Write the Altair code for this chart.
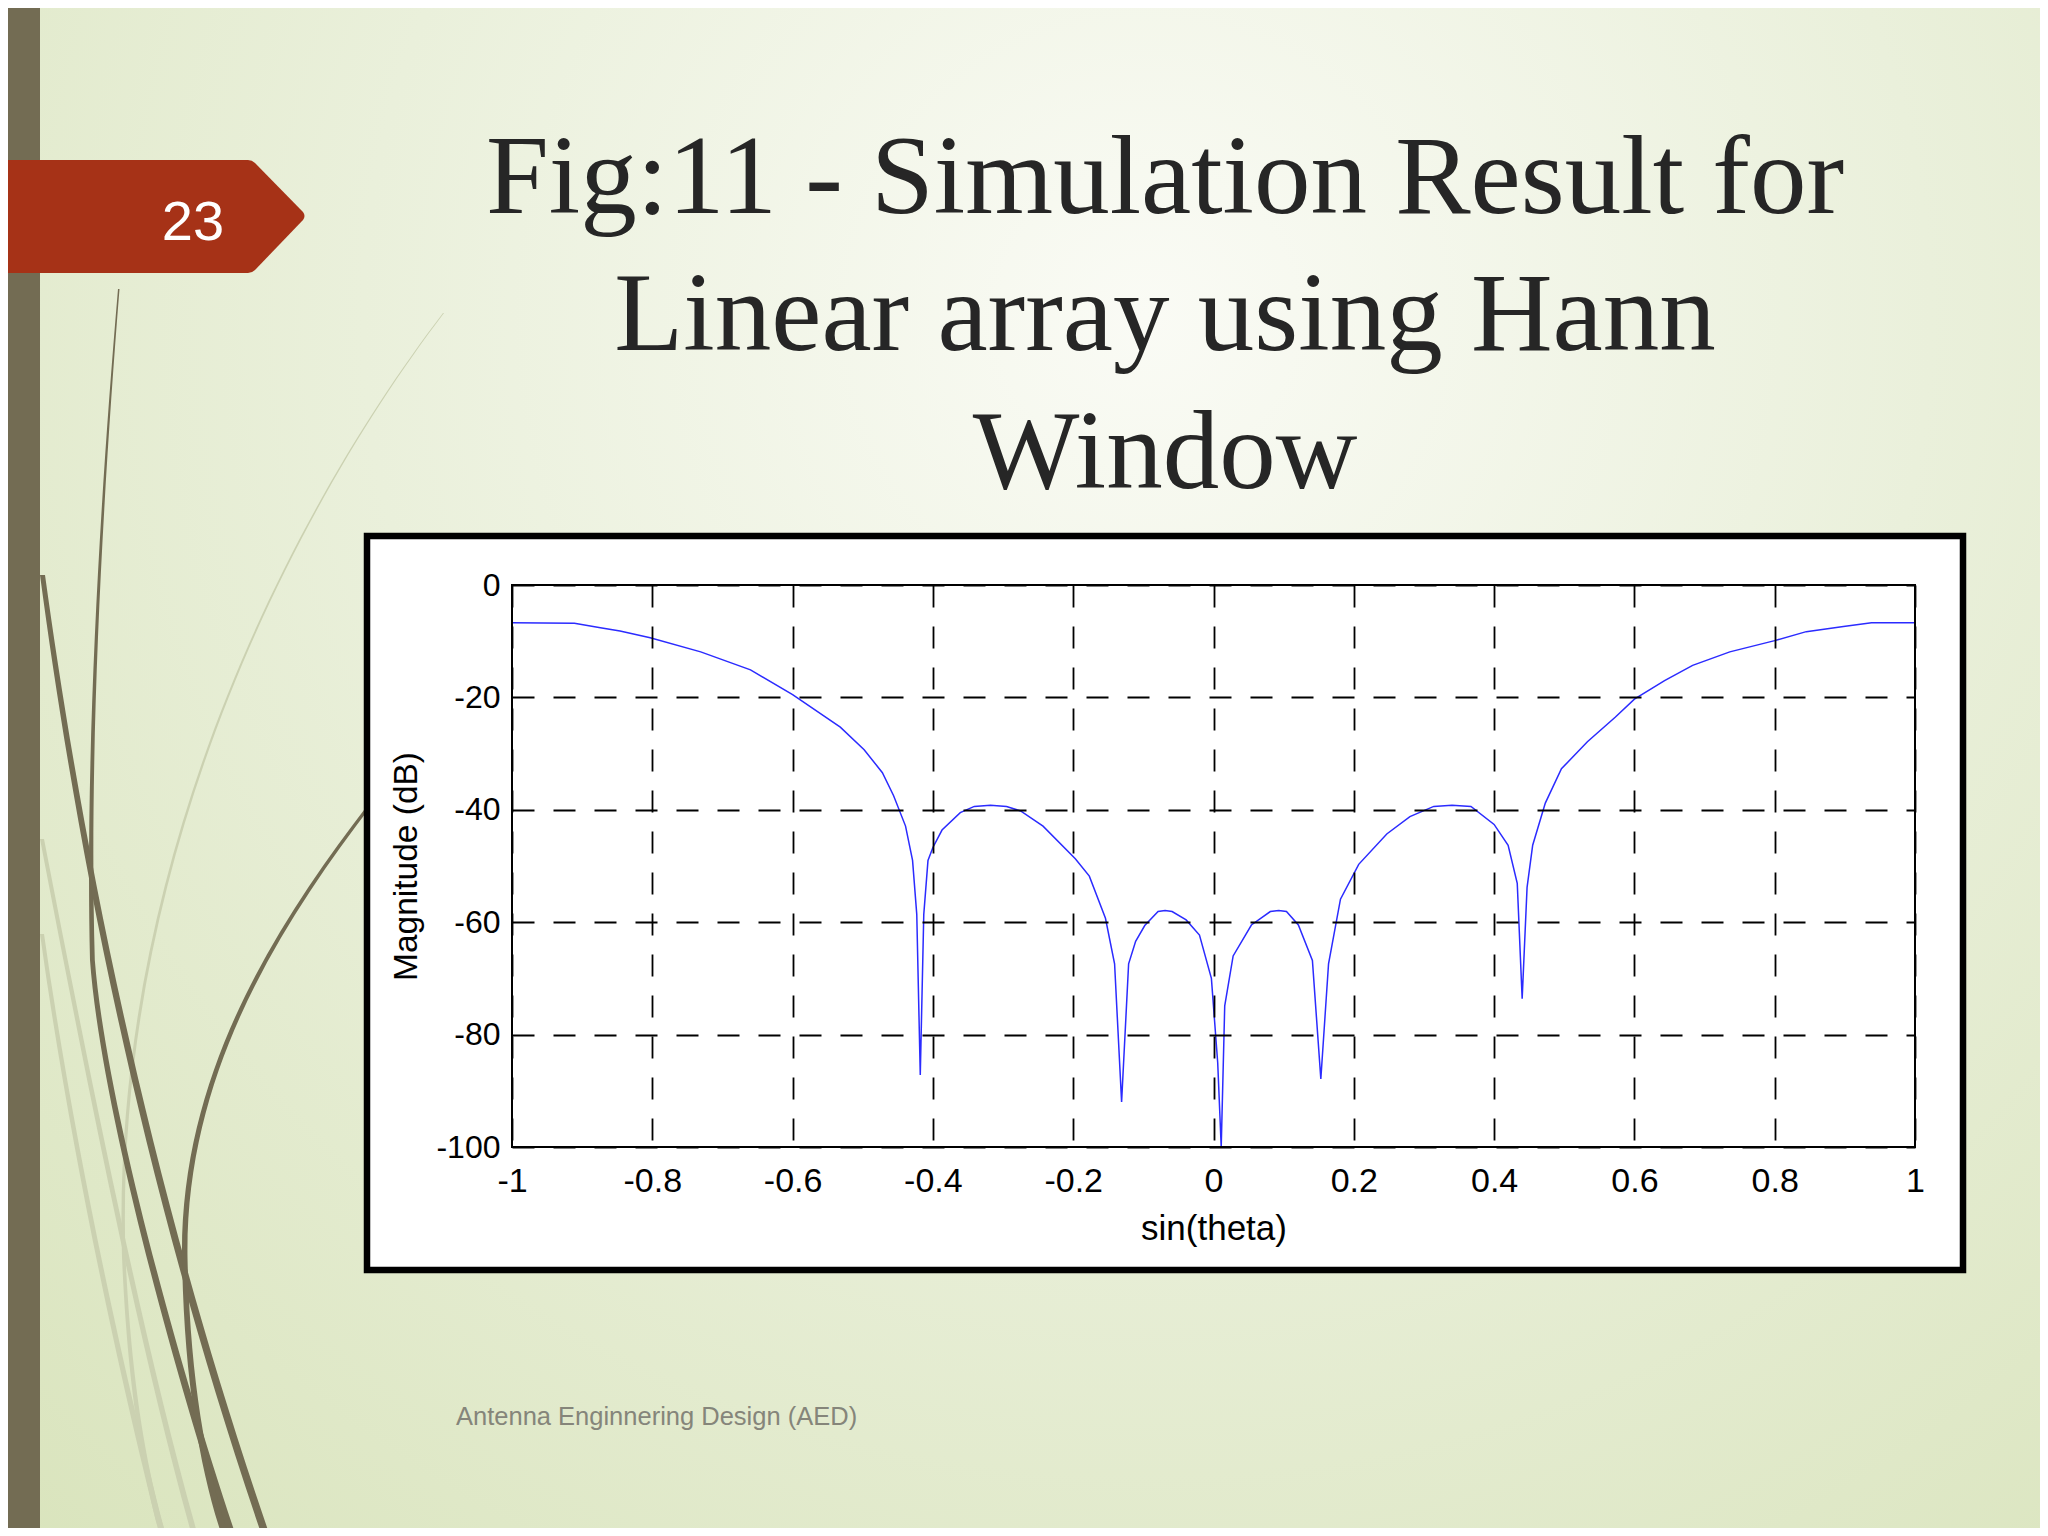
import altair as alt
import pandas as pd

# ---------------- data ----------------
sin_theta = [-1.0, -0.911, -0.874, -0.846, -0.803, -0.731, -0.660, -0.600, -0.532, -0.498,
             -0.472, -0.456, -0.439, -0.429, -0.423, -0.418, -0.413, -0.407, -0.400, -0.387,
             -0.361, -0.341, -0.318, -0.295, -0.275, -0.243, -0.197, -0.177, -0.154, -0.141,
             -0.131, -0.121, -0.111, -0.098, -0.079, -0.069, -0.059, -0.039, -0.020, -0.003,
             0.006, 0.011, 0.016, 0.028, 0.054, 0.081, 0.093, 0.104, 0.121, 0.141,
             0.153, 0.164, 0.181, 0.207, 0.247, 0.280, 0.314, 0.340, 0.367, 0.400,
             0.420, 0.433, 0.440, 0.447, 0.455, 0.473, 0.496, 0.533, 0.573, 0.600,
             0.643, 0.683, 0.736, 0.800, 0.845, 0.898, 0.938, 1.0]
magnitude_db = [-6.7, -6.8, -7.6, -8.2, -9.4, -11.9, -15.1, -19.5, -25.3, -29.3,
                -33.4, -37.5, -42.9, -49.0, -58.6, -87.2, -58.6, -49.0, -46.7, -43.6,
                -40.5, -39.4, -39.2, -39.4, -40.2, -42.9, -48.7, -51.8, -59.3, -67.4,
                -92.0, -67.4, -63.4, -60.6, -58.1, -57.9, -58.1, -59.6, -62.3, -70.0,
                -85.0, -100.0, -74.9, -66.0, -60.5, -58.1, -57.9, -58.1, -60.5, -66.8,
                -87.9, -67.4, -55.9, -49.7, -44.3, -41.2, -39.4, -39.2, -39.4, -42.6,
                -46.3, -53.1, -73.6, -53.8, -46.3, -38.8, -32.7, -27.9, -23.5, -20.3,
                -17.0, -14.3, -11.9, -9.9, -8.3, -7.4, -6.7, -6.7]
x_ticks = [-1, -0.8, -0.6, -0.4, -0.2, 0, 0.2, 0.4, 0.6, 0.8, 1]
y_ticks = [0, -20, -40, -60, -80, -100]
title_lines = ["Fig:11 - Simulation Result for", "Linear array using Hann", "Window"]
slide_number = "23"
footer_text = "Antenna Enginnering Design (AED)"
x_title = "sin(theta)"
y_title = "Magnitude (dB)"

# ---------------- layout (slide pixels) ----------------
W, H = 1403, 562          # plot area
OX, OY = 512, 585         # plot origin on the slide


def px(X):
    return X - OX


def py(Y):
    return Y - OY


one = pd.DataFrame({"k": [0]})


def deco():
    return alt.Chart(one)


def taper_path(pts, w0, w1):
    n = len(pts)
    def w(i):
        return w0 + (w1 - w0) * i / (n - 1)
    s = "M%.1f,%.1f" % pts[0]
    for j in range(1, n, 3):
        s += " C%.1f,%.1f %.1f,%.1f %.1f,%.1f" % (pts[j] + pts[j + 1] + pts[j + 2])
    back = [(pts[i][0] + w(i), pts[i][1]) for i in range(n - 1, -1, -1)]
    s += " L%.1f,%.1f" % back[0]
    for j in range(1, n, 3):
        s += " C%.1f,%.1f %.1f,%.1f %.1f,%.1f" % (back[j] + back[j + 1] + back[j + 2])
    return s + " Z"


def shape_layer(path, fill):
    return deco().mark_point(shape=path, size=4, filled=True, fill=fill, color=fill,
                             opacity=1, strokeWidth=0).encode(
        x=alt.value(-OX), y=alt.value(-OY))


DARK = "#736c53"
LIGHT = "#cbd1b1"

background = deco().mark_rect(
    color={"gradient": "radial", "x1": 0.56, "y1": 0.28, "r1": 0.0,
           "x2": 0.56, "y2": 0.28, "r2": 0.85,
           "stops": [{"offset": 0.0, "color": "#fafbf5"},
                     {"offset": 0.45, "color": "#eaf0db"},
                     {"offset": 1.0, "color": "#d8e3ba"}]}
).encode(x=alt.value(px(0)), x2=alt.value(px(2048)),
         y=alt.value(py(0)), y2=alt.value(py(1536)))

strip = deco().mark_rect(color=DARK).encode(
    x=alt.value(px(0)), x2=alt.value(px(40)),
    y=alt.value(py(0)), y2=alt.value(py(1536)))

swooshes = [
    shape_layer(taper_path([(40, 934), (70, 1150), (120, 1380), (160, 1536)], 4, 6), LIGHT),
    shape_layer(taper_path([(40, 839), (90, 1100), (140, 1350), (192, 1536)], 4, 6), LIGHT),
    shape_layer(taper_path([(443, 313), (300, 500), (110, 850), (122, 1257),
                            (128, 1400), (145, 1480), (160, 1536)], 1, 6), LIGHT),
    shape_layer(taper_path([(118, 289), (100, 500), (85, 750), (90, 960),
                            (100, 1100), (170, 1360), (228, 1536)], 1.5, 8), DARK),
    shape_layer(taper_path([(40, 575), (70, 800), (130, 1150), (262, 1536)], 5, 8), DARK),
    shape_layer(taper_path([(367, 806), (280, 920), (180, 1070), (182, 1257),
                            (184, 1380), (200, 1470), (222, 1536)], 4, 7), DARK),
]

tab = shape_layer("M0,160 L248,160 Q252,160 255,163 L303,212 Q306,216 303,220 "
                  "L255,270 Q252,273 248,273 L0,273 Z", "#a63217")

tab_text = deco().mark_text(text=slide_number, font="Liberation Sans", fontSize=56,
                            color="white", align="center", baseline="alphabetic").encode(
    x=alt.value(px(193)), y=alt.value(py(240)))

title_layers = [
    deco().mark_text(text=t, font="Liberation Serif", fontSize=113, color="#262626",
                     align="center", baseline="alphabetic").encode(
        x=alt.value(px(1165)), y=alt.value(py(b)))
    for t, b in zip(title_lines, [213, 350, 488])
]

footer = deco().mark_text(text=footer_text, font="Liberation Sans", fontSize=25.5,
                          color="#85857a", align="left", baseline="alphabetic").encode(
    x=alt.value(px(456)), y=alt.value(py(1425)))

frame = deco().mark_rect(fill="white", stroke="black", strokeWidth=6.5).encode(
    x=alt.value(px(367)), x2=alt.value(px(1963)),
    y=alt.value(py(536)), y2=alt.value(py(1270)))

NARROW = "Liberation Sans Narrow, Arial Narrow, Liberation Sans, Arial, sans-serif"

df = pd.DataFrame({"sin_theta": sin_theta, "magnitude_db": magnitude_db})

curve = alt.Chart(df).mark_line(color="#2b2bff", strokeWidth=1.5, clip=True).encode(
    x=alt.X("sin_theta:Q",
            scale=alt.Scale(domain=[-1, 1], nice=False, zero=False),
            axis=alt.Axis(values=x_ticks, labelExpr="toString(datum.value)",
                          labelFont=NARROW, labelFontSize=34, labelColor="black",
                          labelPadding=17, labelFlush=False, labelOverlap=False,
                          ticks=False, domain=False,
                          grid=True, gridColor="black", gridDash=[22, 19],
                          gridWidth=1.8, gridOpacity=1,
                          title=x_title, titleFont=NARROW, titleFontSize=35,
                          titleFontWeight="normal", titleColor="black",
                          titlePadding=13, zindex=1)),
    y=alt.Y("magnitude_db:Q",
            scale=alt.Scale(domain=[-100, 0], nice=False, zero=False),
            axis=alt.Axis(values=y_ticks, labelExpr="toString(datum.value)",
                          labelFont=NARROW, labelFontSize=32, labelColor="black",
                          labelPadding=12, labelFlush=False, labelOverlap=False,
                          ticks=False, domain=False,
                          grid=True, gridColor="black", gridDash=[22, 19],
                          gridWidth=1.8, gridOpacity=1,
                          title=y_title, titleFont="Liberation Sans", titleFontSize=33.5,
                          titleFontWeight="normal", titleColor="black",
                          titlePadding=12, zindex=1)),
)

plot_box = deco().mark_rect(fillOpacity=0, stroke="black", strokeWidth=2).encode(
    x=alt.value(0), x2=alt.value(W), y=alt.value(0), y2=alt.value(H))

chart = alt.layer(
    background, strip, *swooshes, tab, tab_text, *title_layers, footer, frame,
    curve, plot_box
).properties(
    width=W, height=H,
    padding={"left": OX - 8, "top": OY - 8, "right": 2040 - (OX + W), "bottom": 1528 - (OY + H)},
    autosize=alt.AutoSizeParams(type="none"),
).configure_view(stroke=None).configure(background="#e3eacb")

chart.save("out.html", embed_options={"renderer": "svg", "actions": False})
